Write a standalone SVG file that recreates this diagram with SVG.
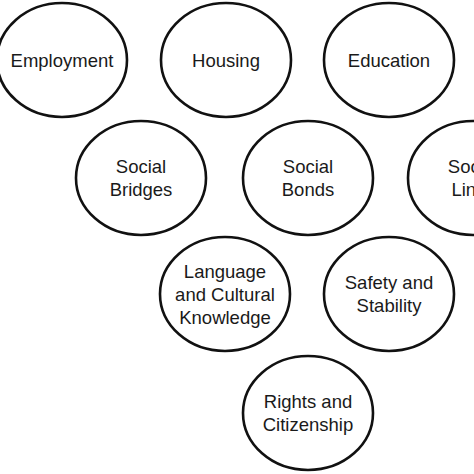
<svg xmlns="http://www.w3.org/2000/svg" width="474" height="474" viewBox="0 0 474 474">
<style>
.n ellipse{fill:#fff;stroke:#111;stroke-width:2.6}
.n text{font-family:"Liberation Sans",Arial,sans-serif;font-size:18.5px;fill:#1a1a1a;text-anchor:middle}
</style>
<rect width="474" height="474" fill="#fff"/>
<g id="connectors"/>
<g id="employment" class="n"><ellipse cx="62" cy="60" rx="65" ry="57"/><text x="62" y="66.5">Employment</text></g>
<g id="housing" class="n"><ellipse cx="226" cy="60" rx="65" ry="57"/><text x="226" y="66.5">Housing</text></g>
<g id="education" class="n"><ellipse cx="389" cy="60" rx="65" ry="57"/><text x="389" y="66.5">Education</text></g>
<g id="social-bridges" class="n"><ellipse cx="141" cy="178" rx="65" ry="57"/><text x="141" y="173">Social</text><text x="141" y="195.5">Bridges</text></g>
<g id="social-bonds" class="n"><ellipse cx="308" cy="178" rx="65" ry="57"/><text x="308" y="173">Social</text><text x="308" y="195.5">Bonds</text></g>
<g id="social-links" class="n"><ellipse cx="473" cy="178" rx="65" ry="57"/><text x="473" y="173">Social</text><text x="473" y="195.5">Links</text></g>
<g id="language" class="n"><ellipse cx="225" cy="294" rx="65" ry="57"/><text x="225" y="277.5">Language</text><text x="225" y="300.5">and Cultural</text><text x="225" y="323.5">Knowledge</text></g>
<g id="safety" class="n"><ellipse cx="389" cy="294" rx="65" ry="57"/><text x="389" y="289">Safety and</text><text x="389" y="311.5">Stability</text></g>
<g id="rights" class="n"><ellipse cx="308" cy="413" rx="65" ry="57"/><text x="308" y="408">Rights and</text><text x="308" y="430.5">Citizenship</text></g>
</svg>
